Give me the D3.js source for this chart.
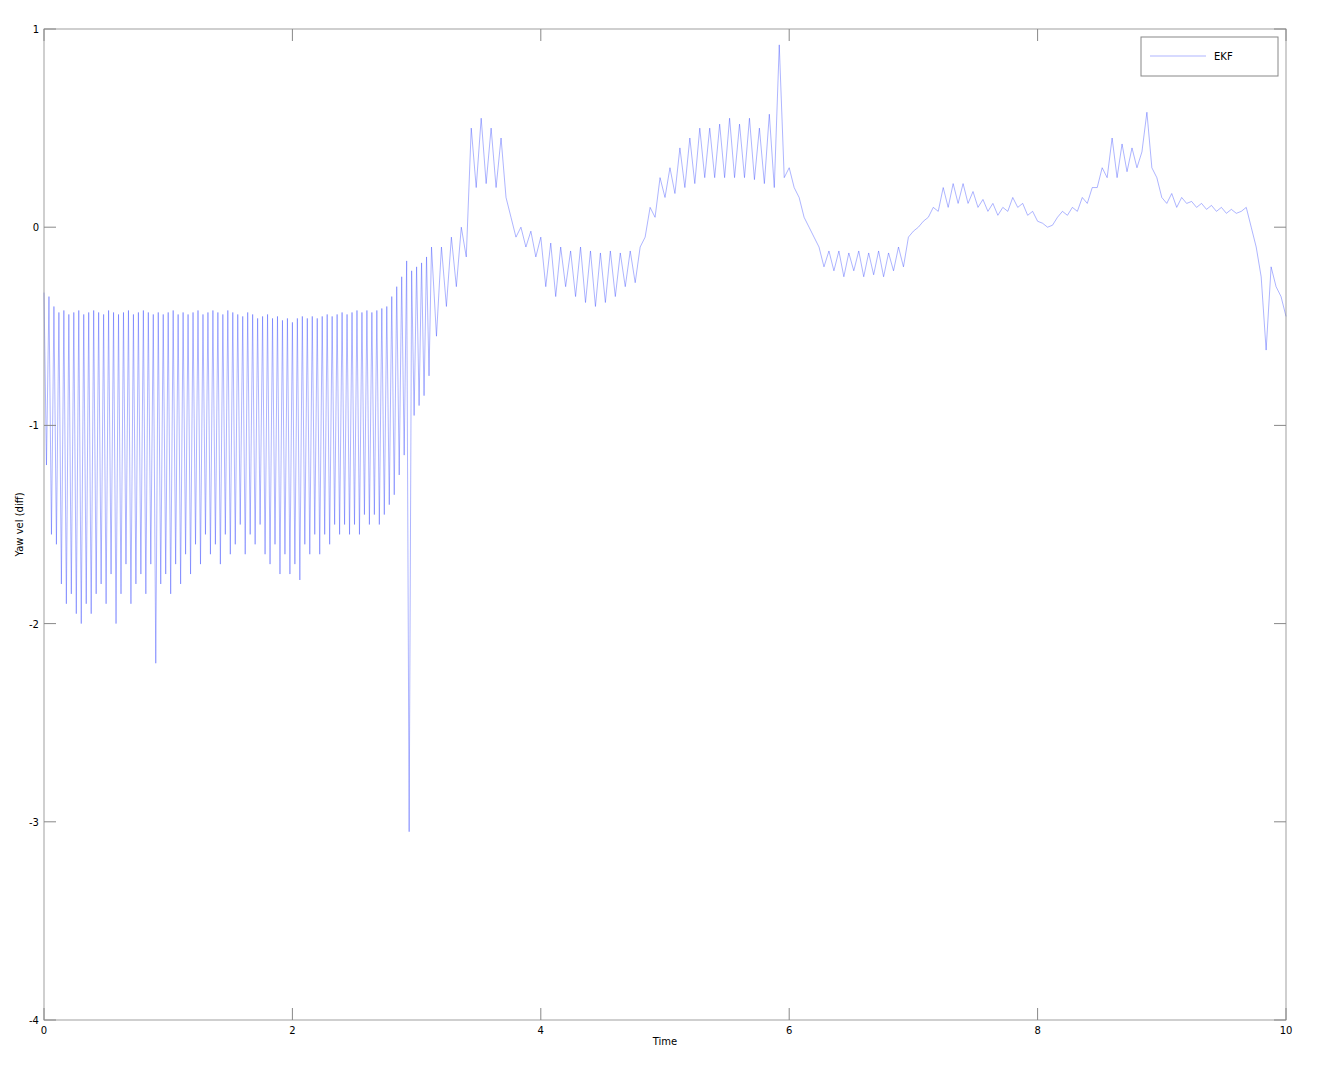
<!DOCTYPE html>
<html><head><meta charset="utf-8">
<script src="https://cdn.jsdelivr.net/npm/d3@7"></script>
<style>body{margin:0;background:#fff}text{font-family:"DejaVu Sans",sans-serif;font-size:10px}</style>
</head><body><svg id="c" width="1341" height="1082"></svg>
<script>
// yaw vel samples, first part every 0.02 s from t=0
const step1 = 0.02;
const yaw1 = [-0.33,-1.2,-0.35,-1.55,-0.4,-1.6,
 -0.43,-1.8,-0.42,-1.9,-0.44,-1.85,-0.43,-1.95,-0.42,-2.0,-0.44,-1.9,-0.43,-1.95,-0.42,-1.85,
 -0.43,-1.8,-0.44,-1.9,-0.42,-1.75,-0.43,-2.0,-0.44,-1.85,-0.43,-1.7,-0.42,-1.9,-0.44,-1.8,-0.43,-1.75,-0.42,-1.85,-0.43,-1.7,-0.44,-2.2,
 -0.43,-1.8,-0.44,-1.75,-0.43,-1.85,-0.42,-1.7,-0.44,-1.8,-0.43,-1.65,-0.44,-1.75,-0.43,-1.6,-0.42,-1.7,-0.44,-1.55,-0.43,-1.65,-0.42,-1.6,-0.43,-1.7,-0.44,-1.55,-0.42,-1.65,
 -0.43,-1.6,-0.44,-1.5,-0.45,-1.65,-0.43,-1.55,-0.44,-1.6,-0.46,-1.5,-0.45,-1.65,-0.44,-1.7,-0.46,-1.6,-0.45,-1.75,-0.47,-1.65,-0.46,-1.75,-0.48,-1.7,
 -0.46,-1.78,-0.45,-1.6,-0.46,-1.65,-0.45,-1.55,-0.46,-1.65,-0.45,-1.55,-0.44,-1.6,-0.45,-1.5,-0.44,-1.55,-0.43,-1.5,-0.44,-1.55,-0.43,-1.5,-0.42,-1.55,-0.43,-1.45,-0.42,-1.5,-0.43,-1.45,-0.42,-1.5,-0.41,-1.45,-0.4,-1.4,
 -0.35,-1.35,-0.3,-1.25,-0.25,-1.15,-0.17,-3.05,-0.22,-0.95,-0.2,-0.9,-0.18,-0.85,-0.15,-0.75];
// second part every 0.04 s from t=3.12
const start2 = 3.12, step2 = 0.04;
const yaw2 = [-0.1,-0.55,-0.1,-0.4,-0.05,-0.3,0.0,-0.15,
 0.5,0.2,0.55,0.22,0.5,0.2,0.45,0.15,
 0.05,-0.05,0.0,-0.1,-0.02,-0.15,
 -0.05,-0.3,-0.08,-0.35,-0.1,-0.3,-0.12,-0.35,-0.1,-0.38,-0.12,-0.4,-0.13,-0.38,-0.12,-0.35,-0.13,-0.3,-0.12,-0.28,-0.1,
 -0.05,0.1,0.05,0.25,
 0.15,0.3,0.17,0.4,0.2,0.45,0.22,0.5,0.25,0.5,0.25,0.52,0.25,0.55,0.25,0.52,0.25,0.55,0.24,0.5,0.22,0.57,0.2,
 0.92,
 0.25,0.3,0.2,0.15,0.05,0.0,-0.05,
 -0.1,-0.2,-0.12,-0.22,-0.12,-0.25,-0.13,-0.22,-0.12,-0.25,-0.13,-0.24,-0.12,-0.25,-0.13,-0.22,-0.1,-0.2,-0.05,
 -0.02,0.0,0.03,0.05,0.1,0.08,
 0.2,0.1,0.22,0.12,0.22,0.12,0.18,
 0.1,0.14,0.08,0.12,0.06,0.1,0.08,0.15,0.1,0.12,0.06,0.08,
 0.03,0.02,0.0,0.01,0.05,0.08,0.06,0.1,
 0.08,0.15,0.12,0.2,0.2,0.3,0.25,
 0.45,0.25,0.42,0.28,0.4,0.3,0.38,0.58,0.3,0.25,
 0.15,0.12,0.17,0.1,0.15,0.12,0.13,0.1,0.12,0.09,0.11,0.08,0.1,0.07,0.09,0.07,0.08,0.1,
 0.0,-0.1,-0.25,-0.62,-0.2,-0.3,-0.35,-0.45];
const xTicks = [0,2,4,6,8,10];
const yTicks = [1,0,-1,-2,-3,-4];

const svg = d3.select("#c");
const L = 44, R = 1286, T = 29, B = 1020;
const x = d3.scaleLinear().domain([0,10]).range([L,R]);
const y = d3.scaleLinear().domain([-4,1]).range([B,T]);

let pts = yaw1.map((v,i) => [i*step1, v]).concat(yaw2.map((v,i) => [start2 + i*step2, v]));

svg.append("path").datum(pts)
  .attr("d", d3.line().x(d => x(d[0])).y(d => y(d[1])))
  .attr("fill","none").attr("stroke","#3344ff").attr("stroke-width",0.4);

svg.append("rect").attr("x",L).attr("y",T).attr("width",R-L).attr("height",B-T)
  .attr("fill","none").attr("stroke","#888").attr("stroke-width",0.8);

const g = svg.append("g");
xTicks.forEach(t => {
  g.append("line").attr("x1",x(t)).attr("x2",x(t)).attr("y1",B).attr("y2",B-12).attr("stroke","#888");
  g.append("line").attr("x1",x(t)).attr("x2",x(t)).attr("y1",T).attr("y2",T+12).attr("stroke","#888");
  g.append("text").attr("x",x(t)).attr("y",B+14).attr("text-anchor","middle").text(t);
});
yTicks.forEach(t => {
  g.append("line").attr("x1",L).attr("x2",L+12).attr("y1",y(t)).attr("y2",y(t)).attr("stroke","#888");
  g.append("line").attr("x1",R).attr("x2",R-12).attr("y1",y(t)).attr("y2",y(t)).attr("stroke","#888");
  g.append("text").attr("x",L-5).attr("y",y(t)+4).attr("text-anchor","end").text(t);
});
svg.append("text").attr("x",(L+R)/2).attr("y",B+25).attr("text-anchor","middle").text("Time");
svg.append("text").attr("transform",`translate(23,${(T+B)/2}) rotate(-90)`).attr("text-anchor","middle").text("Yaw vel (diff)");

// legend
svg.append("rect").attr("x",1141).attr("y",37).attr("width",137).attr("height",39).attr("fill","#fff").attr("stroke","#888");
svg.append("line").attr("x1",1150).attr("x2",1206).attr("y1",56).attr("y2",56).attr("stroke","#3344ff").attr("stroke-width",0.4);
svg.append("text").attr("x",1214).attr("y",60).text("EKF");
</script></body></html>
